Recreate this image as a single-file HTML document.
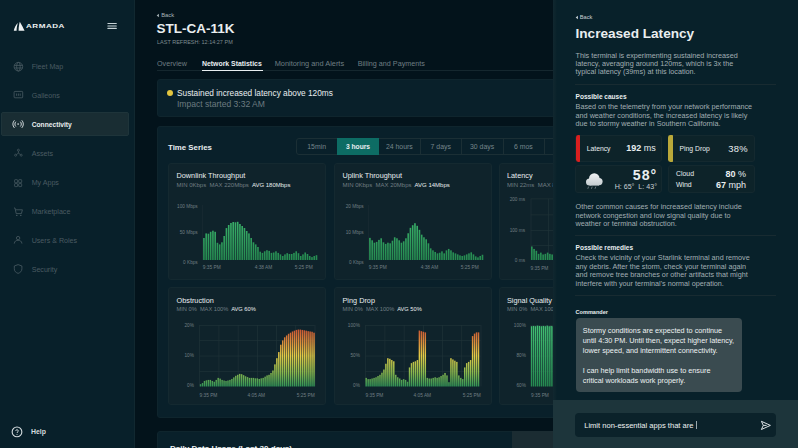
<!DOCTYPE html>
<html><head><meta charset="utf-8"><style>
html,body{margin:0;padding:0;}
body{width:798px;height:448px;overflow:hidden;position:relative;background:#03131b;font-family:"Liberation Sans", sans-serif;}
.b{position:absolute;}
.t{position:absolute;white-space:nowrap;}
</style></head><body>
<svg class="b" style="left:156px;top:13px" width="4" height="5"><path d="M2.9 0.7 L0.7 2.5 L2.9 4.3 Z" fill="#a9b5b9"/></svg>
<div class="t" style="left:161.20px;top:12.89px;font-size:5.8px;line-height:5.8px;color:#a9b5b9;">Back</div>
<div class="t" style="left:156.60px;top:22.47px;font-size:13.5px;line-height:13.5px;color:#e9eef0;font-weight:bold;">STL-CA-11K</div>
<div class="t" style="left:157.00px;top:40.34px;font-size:5.5px;line-height:5.5px;color:#7d8b90;">LAST REFRESH: 12:14:27 PM</div>
<div class="t" style="left:157.00px;top:59.91px;font-size:7.2px;line-height:7.2px;color:#6f7e83;">Overview</div>
<div class="t" style="left:202.00px;top:60.96px;font-size:6.9px;line-height:6.9px;color:#e9eef0;font-weight:bold;">Network Statistics</div>
<div class="t" style="left:274.70px;top:59.74px;font-size:7.4px;line-height:7.4px;color:#6f7e83;">Monitoring and Alerts</div>
<div class="t" style="left:357.70px;top:59.91px;font-size:7.2px;line-height:7.2px;color:#6f7e83;">Billing and Payments</div>
<div class="b" style="left:157px;top:70px;width:420px;height:1px;background:#15272e;"></div>
<div class="b" style="left:202px;top:69.8px;width:61px;height:1.2px;background:#e9eef0;"></div>
<div class="b" style="left:157px;top:79px;width:430px;height:38px;background:#09202a;border:1px solid #0f252d;border-radius:3px;box-sizing:border-box;"></div>
<div class="b" style="left:166.5px;top:90px;width:6px;height:6px;border-radius:50%;background:#e3c53f"></div>
<div class="t" style="left:177.00px;top:89.27px;font-size:8.3px;line-height:8.3px;color:#e9eef0;">Sustained increased latency above 120ms</div>
<div class="t" style="left:177.00px;top:99.96px;font-size:8.55px;line-height:8.55px;color:#6c7b80;">Impact started 3:32 AM</div>
<div class="b" style="left:157px;top:125.5px;width:430px;height:292px;background:#09202a;border:1px solid #0f252d;border-radius:3px;box-sizing:border-box;"></div>
<div class="t" style="left:168.00px;top:143.55px;font-size:7.85px;line-height:7.85px;color:#e9eef0;font-weight:bold;">Time Series</div>
<div class="b" style="left:296px;top:138px;width:290px;height:17px;background:transparent;border:1px solid #1b2f35;border-radius:3px;box-sizing:border-box;"></div>
<div class="t" style="left:216.67px;width:200px;text-align:center;top:144.16px;font-size:6.9px;line-height:6.9px;color:#75858a;">15min</div>
<div class="b" style="left:337.35px;top:138px;width:41.35px;height:17px;background:#0d6c64;"></div>
<div class="t" style="left:258.02px;width:200px;text-align:center;top:144.33px;font-size:6.7px;line-height:6.7px;color:#e9eef0;font-weight:bold;">3 hours</div>
<div class="t" style="left:299.37px;width:200px;text-align:center;top:144.16px;font-size:6.9px;line-height:6.9px;color:#75858a;">24 hours</div>
<div class="b" style="left:420.05px;top:138px;width:1px;height:17px;background:#1b2f35;"></div>
<div class="t" style="left:340.72px;width:200px;text-align:center;top:144.16px;font-size:6.9px;line-height:6.9px;color:#75858a;">7 days</div>
<div class="b" style="left:461.4px;top:138px;width:1px;height:17px;background:#1b2f35;"></div>
<div class="t" style="left:382.07px;width:200px;text-align:center;top:144.16px;font-size:6.9px;line-height:6.9px;color:#75858a;">30 days</div>
<div class="b" style="left:502.75px;top:138px;width:1px;height:17px;background:#1b2f35;"></div>
<div class="t" style="left:423.42px;width:200px;text-align:center;top:144.16px;font-size:6.9px;line-height:6.9px;color:#75858a;">6 mos</div>
<div class="b" style="left:544.1px;top:138px;width:1px;height:17px;background:#1b2f35;"></div>
<div class="t" style="left:464.77px;width:200px;text-align:center;top:144.16px;font-size:6.9px;line-height:6.9px;color:#75858a;">1 yr</div>
<div class="b" style="left:168px;top:162.5px;width:158px;height:117.5px;background:#0f232b;border:1px solid #142930;border-radius:3px;box-sizing:border-box;"></div>
<div class="t" style="left:176.50px;top:171.82px;font-size:7.3px;line-height:7.3px;color:#e9eef0;">Downlink Throughput</div>
<div class="t" style="left:176.50px;top:182.22px;font-size:6.0px;line-height:6.0px;color:#7c8b90;white-space:pre;"><span style="color:#6f7e83">MIN 0Kbps  MAX 220Mbps  </span><span style="color:#e9eef0">AVG 180Mbps</span></div>
<div class="b" style="left:334px;top:162.5px;width:158px;height:117.5px;background:#0f232b;border:1px solid #142930;border-radius:3px;box-sizing:border-box;"></div>
<div class="t" style="left:342.50px;top:171.82px;font-size:7.3px;line-height:7.3px;color:#e9eef0;">Uplink Throughput</div>
<div class="t" style="left:342.50px;top:182.22px;font-size:6.0px;line-height:6.0px;color:#7c8b90;white-space:pre;"><span style="color:#6f7e83">MIN 0Kbps  MAX 20Mbps  </span><span style="color:#e9eef0">AVG 14Mbps</span></div>
<div class="b" style="left:498.5px;top:162.5px;width:158px;height:117.5px;background:#0f232b;border:1px solid #142930;border-radius:3px;box-sizing:border-box;"></div>
<div class="t" style="left:507.00px;top:171.82px;font-size:7.3px;line-height:7.3px;color:#e9eef0;">Latency</div>
<div class="t" style="left:507.00px;top:182.22px;font-size:6.0px;line-height:6.0px;color:#7c8b90;white-space:pre;"><span style="color:#6f7e83">MIN 22ms  MAX 84ms  </span><span style="color:#e9eef0">AVG 39ms</span></div>
<div class="b" style="left:168px;top:287px;width:158px;height:118px;background:#0f232b;border:1px solid #142930;border-radius:3px;box-sizing:border-box;"></div>
<div class="t" style="left:176.50px;top:297.32px;font-size:7.3px;line-height:7.3px;color:#e9eef0;">Obstruction</div>
<div class="t" style="left:176.50px;top:307.07px;font-size:5.7px;line-height:5.7px;color:#7c8b90;white-space:pre;"><span style="color:#6f7e83">MIN 0%  MAX 100%  </span><span style="color:#e9eef0">AVG 60%</span></div>
<div class="b" style="left:334px;top:287px;width:158px;height:118px;background:#0f232b;border:1px solid #142930;border-radius:3px;box-sizing:border-box;"></div>
<div class="t" style="left:342.50px;top:297.32px;font-size:7.3px;line-height:7.3px;color:#e9eef0;">Ping Drop</div>
<div class="t" style="left:342.50px;top:307.07px;font-size:5.7px;line-height:5.7px;color:#7c8b90;white-space:pre;"><span style="color:#6f7e83">MIN 0%  MAX 100%  </span><span style="color:#e9eef0">AVG 50%</span></div>
<div class="b" style="left:498.5px;top:287px;width:158px;height:118px;background:#0f232b;border:1px solid #142930;border-radius:3px;box-sizing:border-box;"></div>
<div class="t" style="left:507.00px;top:297.32px;font-size:7.3px;line-height:7.3px;color:#e9eef0;">Signal Quality</div>
<div class="t" style="left:507.00px;top:307.07px;font-size:5.7px;line-height:5.7px;color:#7c8b90;white-space:pre;"><span style="color:#6f7e83">MIN 0%  MAX 100%  </span><span style="color:#e9eef0">AVG 98%</span></div>
<div class="b" style="left:157px;top:431px;width:430px;height:40px;background:#09202a;border:1px solid #0f252d;border-radius:3px;box-sizing:border-box;"></div>
<div class="b" style="left:512px;top:431px;width:45px;height:17px;background:#1b2c32;"></div>
<div class="t" style="left:170.00px;top:444.74px;font-size:8.1px;line-height:8.1px;color:#e9eef0;font-weight:bold;">Daily Data Usage (Last 30 days)</div>
<svg class="b" style="left:168px;top:163px" width="158" height="117" viewBox="168 163 158 117"><defs><linearGradient id="g1" gradientUnits="userSpaceOnUse" x1="0" y1="205" x2="0" y2="260"><stop offset="0" stop-color="#42c274"/><stop offset="1" stop-color="#258a50"/></linearGradient></defs><rect x="202.00" y="205.00" width="0.7" height="55.00" fill="#1a2c33"/><rect x="203.13" y="238.00" width="1.60" height="22.00" fill="url(#g1)"/><rect x="205.38" y="233.40" width="1.60" height="26.60" fill="url(#g1)"/><rect x="207.63" y="233.70" width="1.60" height="26.30" fill="url(#g1)"/><rect x="209.88" y="231.80" width="1.60" height="28.20" fill="url(#g1)"/><rect x="212.13" y="230.70" width="1.60" height="29.30" fill="url(#g1)"/><rect x="214.38" y="231.80" width="1.60" height="28.20" fill="url(#g1)"/><rect x="216.63" y="242.80" width="1.60" height="17.20" fill="url(#g1)"/><rect x="218.88" y="244.40" width="1.60" height="15.60" fill="url(#g1)"/><rect x="221.13" y="242.30" width="1.60" height="17.70" fill="url(#g1)"/><rect x="223.39" y="236.00" width="1.60" height="24.00" fill="url(#g1)"/><rect x="225.64" y="228.10" width="1.60" height="31.90" fill="url(#g1)"/><rect x="227.89" y="225.00" width="1.60" height="35.00" fill="url(#g1)"/><rect x="230.14" y="223.00" width="1.60" height="37.00" fill="url(#g1)"/><rect x="232.39" y="222.00" width="1.60" height="38.00" fill="url(#g1)"/><rect x="234.64" y="222.30" width="1.60" height="37.70" fill="url(#g1)"/><rect x="236.89" y="221.80" width="1.60" height="38.20" fill="url(#g1)"/><rect x="239.14" y="224.00" width="1.60" height="36.00" fill="url(#g1)"/><rect x="241.39" y="226.00" width="1.60" height="34.00" fill="url(#g1)"/><rect x="243.64" y="228.00" width="1.60" height="32.00" fill="url(#g1)"/><rect x="245.90" y="231.00" width="1.60" height="29.00" fill="url(#g1)"/><rect x="248.15" y="233.40" width="1.60" height="26.60" fill="url(#g1)"/><rect x="250.40" y="238.00" width="1.60" height="22.00" fill="url(#g1)"/><rect x="252.65" y="242.30" width="1.60" height="17.70" fill="url(#g1)"/><rect x="254.90" y="244.40" width="1.60" height="15.60" fill="url(#g1)"/><rect x="257.15" y="247.00" width="1.60" height="13.00" fill="url(#g1)"/><rect x="259.40" y="251.70" width="1.60" height="8.30" fill="url(#g1)"/><rect x="261.65" y="252.90" width="1.60" height="7.10" fill="url(#g1)"/><rect x="263.90" y="251.30" width="1.60" height="8.70" fill="url(#g1)"/><rect x="266.15" y="250.20" width="1.60" height="9.80" fill="url(#g1)"/><rect x="268.40" y="250.90" width="1.60" height="9.10" fill="url(#g1)"/><rect x="270.66" y="252.90" width="1.60" height="7.10" fill="url(#g1)"/><rect x="272.91" y="252.50" width="1.60" height="7.50" fill="url(#g1)"/><rect x="275.16" y="251.30" width="1.60" height="8.70" fill="url(#g1)"/><rect x="277.41" y="252.90" width="1.60" height="7.10" fill="url(#g1)"/><rect x="279.66" y="254.40" width="1.60" height="5.60" fill="url(#g1)"/><rect x="281.91" y="256.00" width="1.60" height="4.00" fill="url(#g1)"/><rect x="284.16" y="254.40" width="1.60" height="5.60" fill="url(#g1)"/><rect x="286.41" y="253.20" width="1.60" height="6.80" fill="url(#g1)"/><rect x="288.66" y="254.00" width="1.60" height="6.00" fill="url(#g1)"/><rect x="290.91" y="254.00" width="1.60" height="6.00" fill="url(#g1)"/><rect x="293.17" y="252.90" width="1.60" height="7.10" fill="url(#g1)"/><rect x="295.42" y="251.30" width="1.60" height="8.70" fill="url(#g1)"/><rect x="297.67" y="253.20" width="1.60" height="6.80" fill="url(#g1)"/><rect x="299.92" y="256.00" width="1.60" height="4.00" fill="url(#g1)"/><rect x="302.17" y="254.40" width="1.60" height="5.60" fill="url(#g1)"/><rect x="304.42" y="252.50" width="1.60" height="7.50" fill="url(#g1)"/><rect x="306.67" y="254.00" width="1.60" height="6.00" fill="url(#g1)"/><rect x="308.92" y="256.00" width="1.60" height="4.00" fill="url(#g1)"/><rect x="311.17" y="257.10" width="1.60" height="2.90" fill="url(#g1)"/><rect x="313.42" y="256.00" width="1.60" height="4.00" fill="url(#g1)"/><rect x="315.68" y="255.20" width="1.60" height="4.80" fill="url(#g1)"/></svg>
<div class="t" style="right:600.30px;top:204.82px;font-size:4.7px;line-height:4.7px;color:#6f7e83;">100 Mbps</div>
<div class="t" style="right:600.30px;top:231.12px;font-size:4.7px;line-height:4.7px;color:#6f7e83;">50 Mbps</div>
<div class="t" style="right:600.30px;top:260.52px;font-size:4.7px;line-height:4.7px;color:#6f7e83;">0 Kbps</div>
<div class="t" style="left:202.80px;top:266.24px;font-size:4.8px;line-height:4.8px;color:#6f7e83;">9:35 PM</div>
<div class="t" style="left:163.50px;width:200px;text-align:center;top:266.24px;font-size:4.8px;line-height:4.8px;color:#6f7e83;">4:38 AM</div>
<div class="t" style="right:485.30px;top:266.24px;font-size:4.8px;line-height:4.8px;color:#6f7e83;">5:25 PM</div>
<svg class="b" style="left:334px;top:163px" width="158" height="117" viewBox="334 163 158 117"><defs><linearGradient id="g2" gradientUnits="userSpaceOnUse" x1="0" y1="205" x2="0" y2="260"><stop offset="0" stop-color="#42c274"/><stop offset="1" stop-color="#258a50"/></linearGradient></defs><rect x="368.00" y="205.00" width="0.7" height="55.00" fill="#1a2c33"/><rect x="369.13" y="237.89" width="1.60" height="22.11" fill="url(#g2)"/><rect x="371.38" y="240.30" width="1.60" height="19.70" fill="url(#g2)"/><rect x="373.63" y="242.71" width="1.60" height="17.29" fill="url(#g2)"/><rect x="375.88" y="241.91" width="1.60" height="18.09" fill="url(#g2)"/><rect x="378.13" y="239.90" width="1.60" height="20.10" fill="url(#g2)"/><rect x="380.38" y="238.29" width="1.60" height="21.71" fill="url(#g2)"/><rect x="382.63" y="242.31" width="1.60" height="17.69" fill="url(#g2)"/><rect x="384.88" y="243.92" width="1.60" height="16.08" fill="url(#g2)"/><rect x="387.13" y="242.71" width="1.60" height="17.29" fill="url(#g2)"/><rect x="389.39" y="243.32" width="1.60" height="16.68" fill="url(#g2)"/><rect x="391.64" y="240.70" width="1.60" height="19.30" fill="url(#g2)"/><rect x="393.89" y="237.29" width="1.60" height="22.71" fill="url(#g2)"/><rect x="396.14" y="238.29" width="1.60" height="21.71" fill="url(#g2)"/><rect x="398.39" y="240.30" width="1.60" height="19.70" fill="url(#g2)"/><rect x="400.64" y="242.71" width="1.60" height="17.29" fill="url(#g2)"/><rect x="402.89" y="241.31" width="1.60" height="18.69" fill="url(#g2)"/><rect x="405.14" y="238.29" width="1.60" height="21.71" fill="url(#g2)"/><rect x="407.39" y="233.27" width="1.60" height="26.73" fill="url(#g2)"/><rect x="409.64" y="227.84" width="1.60" height="32.16" fill="url(#g2)"/><rect x="411.90" y="225.23" width="1.60" height="34.77" fill="url(#g2)"/><rect x="414.15" y="223.22" width="1.60" height="36.78" fill="url(#g2)"/><rect x="416.40" y="225.83" width="1.60" height="34.17" fill="url(#g2)"/><rect x="418.65" y="229.85" width="1.60" height="30.15" fill="url(#g2)"/><rect x="420.90" y="234.67" width="1.60" height="25.33" fill="url(#g2)"/><rect x="423.15" y="237.29" width="1.60" height="22.71" fill="url(#g2)"/><rect x="425.40" y="239.30" width="1.60" height="20.70" fill="url(#g2)"/><rect x="427.65" y="243.32" width="1.60" height="16.68" fill="url(#g2)"/><rect x="429.90" y="248.34" width="1.60" height="11.66" fill="url(#g2)"/><rect x="432.15" y="250.35" width="1.60" height="9.65" fill="url(#g2)"/><rect x="434.40" y="251.96" width="1.60" height="8.04" fill="url(#g2)"/><rect x="436.66" y="253.37" width="1.60" height="6.63" fill="url(#g2)"/><rect x="438.91" y="252.76" width="1.60" height="7.24" fill="url(#g2)"/><rect x="441.16" y="251.36" width="1.60" height="8.64" fill="url(#g2)"/><rect x="443.41" y="253.37" width="1.60" height="6.63" fill="url(#g2)"/><rect x="445.66" y="250.35" width="1.60" height="9.65" fill="url(#g2)"/><rect x="447.91" y="248.94" width="1.60" height="11.06" fill="url(#g2)"/><rect x="450.16" y="250.35" width="1.60" height="9.65" fill="url(#g2)"/><rect x="452.41" y="252.36" width="1.60" height="7.64" fill="url(#g2)"/><rect x="454.66" y="253.37" width="1.60" height="6.63" fill="url(#g2)"/><rect x="456.91" y="254.37" width="1.60" height="5.63" fill="url(#g2)"/><rect x="459.17" y="255.38" width="1.60" height="4.62" fill="url(#g2)"/><rect x="461.42" y="255.98" width="1.60" height="4.02" fill="url(#g2)"/><rect x="463.67" y="255.38" width="1.60" height="4.62" fill="url(#g2)"/><rect x="465.92" y="254.37" width="1.60" height="5.63" fill="url(#g2)"/><rect x="468.17" y="253.37" width="1.60" height="6.63" fill="url(#g2)"/><rect x="470.42" y="252.36" width="1.60" height="7.64" fill="url(#g2)"/><rect x="472.67" y="254.37" width="1.60" height="5.63" fill="url(#g2)"/><rect x="474.92" y="256.38" width="1.60" height="3.62" fill="url(#g2)"/><rect x="477.17" y="257.39" width="1.60" height="2.61" fill="url(#g2)"/><rect x="479.42" y="255.98" width="1.60" height="4.02" fill="url(#g2)"/><rect x="481.68" y="254.77" width="1.60" height="5.23" fill="url(#g2)"/></svg>
<div class="t" style="right:434.30px;top:204.82px;font-size:4.7px;line-height:4.7px;color:#6f7e83;">20 Mbps</div>
<div class="t" style="right:434.30px;top:231.12px;font-size:4.7px;line-height:4.7px;color:#6f7e83;">10 Mbps</div>
<div class="t" style="right:434.30px;top:260.52px;font-size:4.7px;line-height:4.7px;color:#6f7e83;">0 Kbps</div>
<div class="t" style="left:368.80px;top:266.24px;font-size:4.8px;line-height:4.8px;color:#6f7e83;">9:35 PM</div>
<div class="t" style="left:329.50px;width:200px;text-align:center;top:266.24px;font-size:4.8px;line-height:4.8px;color:#6f7e83;">4:38 AM</div>
<div class="t" style="right:319.30px;top:266.24px;font-size:4.8px;line-height:4.8px;color:#6f7e83;">5:25 PM</div>
<svg class="b" style="left:500px;top:163px" width="158" height="117" viewBox="500 163 158 117"><defs><linearGradient id="g3" gradientUnits="userSpaceOnUse" x1="0" y1="198.6" x2="0" y2="260"><stop offset="0" stop-color="#42c274"/><stop offset="1" stop-color="#258a50"/></linearGradient></defs><rect x="530.7" y="198.6" width="115" height="0.6" fill="#213439"/><rect x="530.7" y="214.6" width="115" height="0.6" fill="#213439"/><rect x="530.7" y="230" width="115" height="0.6" fill="#213439"/><rect x="530.7" y="245.3" width="115" height="0.6" fill="#213439"/><rect x="530.7" y="198.6" width="0.6" height="61.4" fill="#213439"/><rect x="548" y="198.6" width="0.6" height="61.4" fill="#213439"/><rect x="531.03" y="246.49" width="1.60" height="13.51" fill="url(#g3)"/><rect x="533.28" y="248.95" width="1.60" height="11.05" fill="url(#g3)"/><rect x="535.54" y="250.79" width="1.60" height="9.21" fill="url(#g3)"/><rect x="537.80" y="253.86" width="1.60" height="6.14" fill="url(#g3)"/><rect x="540.05" y="252.63" width="1.60" height="7.37" fill="url(#g3)"/><rect x="542.31" y="254.47" width="1.60" height="5.53" fill="url(#g3)"/><rect x="544.57" y="253.86" width="1.60" height="6.14" fill="url(#g3)"/><rect x="546.83" y="252.63" width="1.60" height="7.37" fill="url(#g3)"/><rect x="549.08" y="253.86" width="1.60" height="6.14" fill="url(#g3)"/><rect x="551.34" y="254.47" width="1.60" height="5.53" fill="url(#g3)"/><rect x="553.60" y="252.02" width="1.60" height="7.98" fill="url(#g3)"/><rect x="555.85" y="252.63" width="1.60" height="7.37" fill="url(#g3)"/><rect x="558.11" y="253.86" width="1.60" height="6.14" fill="url(#g3)"/><rect x="560.37" y="253.25" width="1.60" height="6.75" fill="url(#g3)"/><rect x="562.62" y="253.86" width="1.60" height="6.14" fill="url(#g3)"/><rect x="564.88" y="253.86" width="1.60" height="6.14" fill="url(#g3)"/><rect x="567.14" y="253.86" width="1.60" height="6.14" fill="url(#g3)"/><rect x="569.39" y="253.86" width="1.60" height="6.14" fill="url(#g3)"/><rect x="571.65" y="253.86" width="1.60" height="6.14" fill="url(#g3)"/><rect x="573.91" y="253.86" width="1.60" height="6.14" fill="url(#g3)"/><rect x="576.16" y="253.86" width="1.60" height="6.14" fill="url(#g3)"/><rect x="578.42" y="253.86" width="1.60" height="6.14" fill="url(#g3)"/><rect x="580.68" y="253.86" width="1.60" height="6.14" fill="url(#g3)"/><rect x="582.94" y="253.86" width="1.60" height="6.14" fill="url(#g3)"/><rect x="585.19" y="253.86" width="1.60" height="6.14" fill="url(#g3)"/><rect x="587.45" y="253.86" width="1.60" height="6.14" fill="url(#g3)"/><rect x="589.71" y="253.86" width="1.60" height="6.14" fill="url(#g3)"/><rect x="591.96" y="253.86" width="1.60" height="6.14" fill="url(#g3)"/><rect x="594.22" y="253.86" width="1.60" height="6.14" fill="url(#g3)"/><rect x="596.48" y="253.86" width="1.60" height="6.14" fill="url(#g3)"/><rect x="598.73" y="253.86" width="1.60" height="6.14" fill="url(#g3)"/><rect x="600.99" y="253.86" width="1.60" height="6.14" fill="url(#g3)"/><rect x="603.25" y="253.86" width="1.60" height="6.14" fill="url(#g3)"/><rect x="605.50" y="253.86" width="1.60" height="6.14" fill="url(#g3)"/><rect x="607.76" y="253.86" width="1.60" height="6.14" fill="url(#g3)"/><rect x="610.02" y="253.86" width="1.60" height="6.14" fill="url(#g3)"/><rect x="612.27" y="253.86" width="1.60" height="6.14" fill="url(#g3)"/><rect x="614.53" y="253.86" width="1.60" height="6.14" fill="url(#g3)"/><rect x="616.79" y="253.86" width="1.60" height="6.14" fill="url(#g3)"/><rect x="619.04" y="253.86" width="1.60" height="6.14" fill="url(#g3)"/><rect x="621.30" y="253.86" width="1.60" height="6.14" fill="url(#g3)"/><rect x="623.56" y="253.86" width="1.60" height="6.14" fill="url(#g3)"/><rect x="625.82" y="253.86" width="1.60" height="6.14" fill="url(#g3)"/><rect x="628.07" y="253.86" width="1.60" height="6.14" fill="url(#g3)"/><rect x="630.33" y="253.86" width="1.60" height="6.14" fill="url(#g3)"/><rect x="632.59" y="253.86" width="1.60" height="6.14" fill="url(#g3)"/><rect x="634.84" y="253.86" width="1.60" height="6.14" fill="url(#g3)"/><rect x="637.10" y="253.86" width="1.60" height="6.14" fill="url(#g3)"/><rect x="639.36" y="253.86" width="1.60" height="6.14" fill="url(#g3)"/><rect x="641.61" y="253.86" width="1.60" height="6.14" fill="url(#g3)"/><rect x="643.87" y="253.86" width="1.60" height="6.14" fill="url(#g3)"/></svg>
<div class="t" style="right:273.00px;top:197.82px;font-size:4.7px;line-height:4.7px;color:#6f7e83;">200 ms</div>
<div class="t" style="right:273.00px;top:229.22px;font-size:4.7px;line-height:4.7px;color:#6f7e83;">100 ms</div>
<div class="t" style="right:273.00px;top:258.92px;font-size:4.7px;line-height:4.7px;color:#6f7e83;">0 ms</div>
<div class="t" style="left:530.50px;top:267.44px;font-size:4.8px;line-height:4.8px;color:#6f7e83;">9:35 PM</div>
<svg class="b" style="left:168px;top:288.5px" width="158" height="117" viewBox="168 288.5 158 117"><defs><linearGradient id="h1" gradientUnits="userSpaceOnUse" x1="0" y1="324.5" x2="0" y2="386"><stop offset="0" stop-color="#c4432f"/><stop offset="0.25" stop-color="#d9853a"/><stop offset="0.5" stop-color="#e4cc46"/><stop offset="0.78" stop-color="#88b84e"/><stop offset="1" stop-color="#2f9256"/></linearGradient></defs><rect x="199.4" y="324.50" width="115.30" height="0.6" fill="#213439"/><rect x="199.4" y="339.88" width="115.30" height="0.6" fill="#213439"/><rect x="199.4" y="355.25" width="115.30" height="0.6" fill="#213439"/><rect x="199.4" y="370.62" width="115.30" height="0.6" fill="#213439"/><rect x="199.40" y="324.5" width="0.6" height="61.50" fill="#213439"/><rect x="218.62" y="324.5" width="0.6" height="61.50" fill="#213439"/><rect x="237.83" y="324.5" width="0.6" height="61.50" fill="#213439"/><rect x="257.05" y="324.5" width="0.6" height="61.50" fill="#213439"/><rect x="276.27" y="324.5" width="0.6" height="61.50" fill="#213439"/><rect x="295.48" y="324.5" width="0.6" height="61.50" fill="#213439"/><rect x="314.70" y="324.5" width="0.6" height="61.50" fill="#213439"/><rect x="199.85" y="383.66" width="1.45" height="2.34" fill="url(#h1)"/><rect x="201.81" y="382.56" width="1.45" height="3.44" fill="url(#h1)"/><rect x="203.77" y="380.46" width="1.45" height="5.54" fill="url(#h1)"/><rect x="205.72" y="379.85" width="1.45" height="6.15" fill="url(#h1)"/><rect x="207.68" y="379.42" width="1.45" height="6.58" fill="url(#h1)"/><rect x="209.63" y="379.42" width="1.45" height="6.58" fill="url(#h1)"/><rect x="211.59" y="380.46" width="1.45" height="5.54" fill="url(#h1)"/><rect x="213.55" y="381.26" width="1.45" height="4.74" fill="url(#h1)"/><rect x="215.50" y="379.42" width="1.45" height="6.58" fill="url(#h1)"/><rect x="217.46" y="377.39" width="1.45" height="8.61" fill="url(#h1)"/><rect x="219.41" y="378.13" width="1.45" height="7.87" fill="url(#h1)"/><rect x="221.37" y="379.42" width="1.45" height="6.58" fill="url(#h1)"/><rect x="223.33" y="380.03" width="1.45" height="5.97" fill="url(#h1)"/><rect x="225.28" y="380.46" width="1.45" height="5.54" fill="url(#h1)"/><rect x="227.24" y="380.03" width="1.45" height="5.97" fill="url(#h1)"/><rect x="229.19" y="379.42" width="1.45" height="6.58" fill="url(#h1)"/><rect x="231.15" y="378.44" width="1.45" height="7.56" fill="url(#h1)"/><rect x="233.11" y="376.90" width="1.45" height="9.10" fill="url(#h1)"/><rect x="235.06" y="375.30" width="1.45" height="10.70" fill="url(#h1)"/><rect x="237.02" y="374.31" width="1.45" height="11.69" fill="url(#h1)"/><rect x="238.97" y="373.39" width="1.45" height="12.61" fill="url(#h1)"/><rect x="240.93" y="373.70" width="1.45" height="12.30" fill="url(#h1)"/><rect x="242.88" y="374.68" width="1.45" height="11.32" fill="url(#h1)"/><rect x="244.84" y="375.79" width="1.45" height="10.21" fill="url(#h1)"/><rect x="246.80" y="376.59" width="1.45" height="9.41" fill="url(#h1)"/><rect x="248.75" y="377.39" width="1.45" height="8.61" fill="url(#h1)"/><rect x="250.71" y="377.39" width="1.45" height="8.61" fill="url(#h1)"/><rect x="252.66" y="377.39" width="1.45" height="8.61" fill="url(#h1)"/><rect x="254.62" y="377.82" width="1.45" height="8.18" fill="url(#h1)"/><rect x="256.58" y="377.82" width="1.45" height="8.18" fill="url(#h1)"/><rect x="258.53" y="378.44" width="1.45" height="7.56" fill="url(#h1)"/><rect x="260.49" y="377.82" width="1.45" height="8.18" fill="url(#h1)"/><rect x="262.44" y="377.39" width="1.45" height="8.61" fill="url(#h1)"/><rect x="264.40" y="376.16" width="1.45" height="9.84" fill="url(#h1)"/><rect x="266.36" y="374.93" width="1.45" height="11.07" fill="url(#h1)"/><rect x="268.31" y="374.31" width="1.45" height="11.69" fill="url(#h1)"/><rect x="270.27" y="372.47" width="1.45" height="13.53" fill="url(#h1)"/><rect x="272.22" y="370.01" width="1.45" height="15.99" fill="url(#h1)"/><rect x="274.18" y="363.86" width="1.45" height="22.14" fill="url(#h1)"/><rect x="276.14" y="357.71" width="1.45" height="28.29" fill="url(#h1)"/><rect x="278.09" y="351.56" width="1.45" height="34.44" fill="url(#h1)"/><rect x="280.05" y="344.18" width="1.45" height="41.82" fill="url(#h1)"/><rect x="282.00" y="339.88" width="1.45" height="46.12" fill="url(#h1)"/><rect x="283.96" y="336.80" width="1.45" height="49.20" fill="url(#h1)"/><rect x="285.92" y="334.95" width="1.45" height="51.04" fill="url(#h1)"/><rect x="287.87" y="333.29" width="1.45" height="52.71" fill="url(#h1)"/><rect x="289.83" y="332.19" width="1.45" height="53.81" fill="url(#h1)"/><rect x="291.78" y="330.96" width="1.45" height="55.04" fill="url(#h1)"/><rect x="293.74" y="330.16" width="1.45" height="55.84" fill="url(#h1)"/><rect x="295.69" y="329.42" width="1.45" height="56.58" fill="url(#h1)"/><rect x="297.65" y="329.05" width="1.45" height="56.95" fill="url(#h1)"/><rect x="299.61" y="329.05" width="1.45" height="56.95" fill="url(#h1)"/><rect x="301.56" y="329.42" width="1.45" height="56.58" fill="url(#h1)"/><rect x="303.52" y="329.73" width="1.45" height="56.27" fill="url(#h1)"/><rect x="305.47" y="330.16" width="1.45" height="55.84" fill="url(#h1)"/><rect x="307.43" y="330.65" width="1.45" height="55.35" fill="url(#h1)"/><rect x="309.39" y="330.96" width="1.45" height="55.04" fill="url(#h1)"/><rect x="311.34" y="331.26" width="1.45" height="54.73" fill="url(#h1)"/><rect x="313.30" y="332.19" width="1.45" height="53.81" fill="url(#h1)"/></svg>
<div class="t" style="right:604.20px;top:323.72px;font-size:4.7px;line-height:4.7px;color:#6f7e83;">20%</div>
<div class="t" style="right:604.20px;top:354.42px;font-size:4.7px;line-height:4.7px;color:#6f7e83;">10%</div>
<div class="t" style="right:604.20px;top:383.92px;font-size:4.7px;line-height:4.7px;color:#6f7e83;">0%</div>
<div class="t" style="left:199.50px;top:393.74px;font-size:4.8px;line-height:4.8px;color:#6f7e83;">9:35 PM</div>
<div class="t" style="left:156.30px;width:200px;text-align:center;top:393.74px;font-size:4.8px;line-height:4.8px;color:#6f7e83;">4:05 AM</div>
<div class="t" style="right:483.30px;top:393.74px;font-size:4.8px;line-height:4.8px;color:#6f7e83;">5:25 PM</div>
<svg class="b" style="left:334px;top:288.5px" width="158" height="117" viewBox="334 288.5 158 117"><defs><linearGradient id="h2" gradientUnits="userSpaceOnUse" x1="0" y1="324.5" x2="0" y2="386"><stop offset="0" stop-color="#c4432f"/><stop offset="0.25" stop-color="#d9853a"/><stop offset="0.5" stop-color="#e4cc46"/><stop offset="0.78" stop-color="#88b84e"/><stop offset="1" stop-color="#2f9256"/></linearGradient></defs><rect x="365.4" y="324.50" width="115.30" height="0.6" fill="#213439"/><rect x="365.4" y="339.88" width="115.30" height="0.6" fill="#213439"/><rect x="365.4" y="355.25" width="115.30" height="0.6" fill="#213439"/><rect x="365.4" y="370.62" width="115.30" height="0.6" fill="#213439"/><rect x="365.40" y="324.5" width="0.6" height="61.50" fill="#213439"/><rect x="384.62" y="324.5" width="0.6" height="61.50" fill="#213439"/><rect x="403.83" y="324.5" width="0.6" height="61.50" fill="#213439"/><rect x="423.05" y="324.5" width="0.6" height="61.50" fill="#213439"/><rect x="442.27" y="324.5" width="0.6" height="61.50" fill="#213439"/><rect x="461.48" y="324.5" width="0.6" height="61.50" fill="#213439"/><rect x="480.70" y="324.5" width="0.6" height="61.50" fill="#213439"/><rect x="365.46" y="377.39" width="1.46" height="8.61" fill="url(#h2)"/><rect x="367.43" y="378.62" width="1.46" height="7.38" fill="url(#h2)"/><rect x="369.40" y="378.62" width="1.46" height="7.38" fill="url(#h2)"/><rect x="371.37" y="378.00" width="1.46" height="8.00" fill="url(#h2)"/><rect x="373.34" y="377.39" width="1.46" height="8.61" fill="url(#h2)"/><rect x="375.31" y="376.77" width="1.46" height="9.22" fill="url(#h2)"/><rect x="377.28" y="375.55" width="1.46" height="10.46" fill="url(#h2)"/><rect x="379.25" y="374.31" width="1.46" height="11.69" fill="url(#h2)"/><rect x="381.22" y="372.16" width="1.46" height="13.84" fill="url(#h2)"/><rect x="383.19" y="369.03" width="1.46" height="16.97" fill="url(#h2)"/><rect x="385.16" y="363.25" width="1.46" height="22.75" fill="url(#h2)"/><rect x="387.13" y="357.71" width="1.46" height="28.29" fill="url(#h2)"/><rect x="389.10" y="358.32" width="1.46" height="27.68" fill="url(#h2)"/><rect x="391.08" y="359.56" width="1.46" height="26.45" fill="url(#h2)"/><rect x="393.05" y="360.79" width="1.46" height="25.21" fill="url(#h2)"/><rect x="395.02" y="374.31" width="1.46" height="11.69" fill="url(#h2)"/><rect x="396.99" y="376.77" width="1.46" height="9.22" fill="url(#h2)"/><rect x="398.96" y="378.00" width="1.46" height="8.00" fill="url(#h2)"/><rect x="400.93" y="379.42" width="1.46" height="6.58" fill="url(#h2)"/><rect x="402.90" y="378.62" width="1.46" height="7.38" fill="url(#h2)"/><rect x="404.87" y="379.42" width="1.46" height="6.58" fill="url(#h2)"/><rect x="406.84" y="381.26" width="1.46" height="4.74" fill="url(#h2)"/><rect x="408.81" y="366.94" width="1.46" height="19.07" fill="url(#h2)"/><rect x="410.78" y="362.63" width="1.46" height="23.37" fill="url(#h2)"/><rect x="412.75" y="361.40" width="1.46" height="24.60" fill="url(#h2)"/><rect x="414.72" y="360.79" width="1.46" height="25.21" fill="url(#h2)"/><rect x="416.69" y="359.56" width="1.46" height="26.45" fill="url(#h2)"/><rect x="418.66" y="330.03" width="1.46" height="55.97" fill="url(#h2)"/><rect x="420.64" y="330.65" width="1.46" height="55.35" fill="url(#h2)"/><rect x="422.61" y="331.26" width="1.46" height="54.73" fill="url(#h2)"/><rect x="424.58" y="331.88" width="1.46" height="54.12" fill="url(#h2)"/><rect x="426.55" y="377.39" width="1.46" height="8.61" fill="url(#h2)"/><rect x="428.52" y="378.00" width="1.46" height="8.00" fill="url(#h2)"/><rect x="430.49" y="378.00" width="1.46" height="8.00" fill="url(#h2)"/><rect x="432.46" y="377.39" width="1.46" height="8.61" fill="url(#h2)"/><rect x="434.43" y="376.77" width="1.46" height="9.22" fill="url(#h2)"/><rect x="436.40" y="377.39" width="1.46" height="8.61" fill="url(#h2)"/><rect x="438.37" y="376.77" width="1.46" height="9.22" fill="url(#h2)"/><rect x="440.34" y="375.55" width="1.46" height="10.46" fill="url(#h2)"/><rect x="442.31" y="374.31" width="1.46" height="11.69" fill="url(#h2)"/><rect x="444.28" y="372.47" width="1.46" height="13.53" fill="url(#h2)"/><rect x="446.25" y="374.93" width="1.46" height="11.07" fill="url(#h2)"/><rect x="448.23" y="381.69" width="1.46" height="4.31" fill="url(#h2)"/><rect x="450.20" y="357.71" width="1.46" height="28.29" fill="url(#h2)"/><rect x="452.17" y="358.94" width="1.46" height="27.06" fill="url(#h2)"/><rect x="454.14" y="360.17" width="1.46" height="25.83" fill="url(#h2)"/><rect x="456.11" y="361.40" width="1.46" height="24.60" fill="url(#h2)"/><rect x="458.08" y="374.93" width="1.46" height="11.07" fill="url(#h2)"/><rect x="460.05" y="377.39" width="1.46" height="8.61" fill="url(#h2)"/><rect x="462.02" y="378.62" width="1.46" height="7.38" fill="url(#h2)"/><rect x="463.99" y="366.94" width="1.46" height="19.07" fill="url(#h2)"/><rect x="465.96" y="362.63" width="1.46" height="23.37" fill="url(#h2)"/><rect x="467.93" y="361.40" width="1.46" height="24.60" fill="url(#h2)"/><rect x="469.90" y="359.56" width="1.46" height="26.45" fill="url(#h2)"/><rect x="471.87" y="335.57" width="1.46" height="50.43" fill="url(#h2)"/><rect x="473.84" y="333.11" width="1.46" height="52.89" fill="url(#h2)"/><rect x="475.81" y="331.88" width="1.46" height="54.12" fill="url(#h2)"/><rect x="477.79" y="331.88" width="1.46" height="54.12" fill="url(#h2)"/></svg>
<div class="t" style="right:438.20px;top:323.72px;font-size:4.7px;line-height:4.7px;color:#6f7e83;">100%</div>
<div class="t" style="right:438.20px;top:354.42px;font-size:4.7px;line-height:4.7px;color:#6f7e83;">50%</div>
<div class="t" style="right:438.20px;top:383.92px;font-size:4.7px;line-height:4.7px;color:#6f7e83;">0%</div>
<div class="t" style="left:365.50px;top:393.74px;font-size:4.8px;line-height:4.8px;color:#6f7e83;">9:35 PM</div>
<div class="t" style="left:322.30px;width:200px;text-align:center;top:393.74px;font-size:4.8px;line-height:4.8px;color:#6f7e83;">4:05 AM</div>
<div class="t" style="right:317.30px;top:393.74px;font-size:4.8px;line-height:4.8px;color:#6f7e83;">5:25 PM</div>
<svg class="b" style="left:500px;top:288.5px" width="158" height="117" viewBox="500 288.5 158 117"><defs><linearGradient id="g4" gradientUnits="userSpaceOnUse" x1="0" y1="324.5" x2="0" y2="386"><stop offset="0" stop-color="#42c274"/><stop offset="1" stop-color="#258a50"/></linearGradient></defs><rect x="530.6" y="324.50" width="115.40" height="0.6" fill="#213439"/><rect x="530.6" y="339.88" width="115.40" height="0.6" fill="#213439"/><rect x="530.6" y="355.25" width="115.40" height="0.6" fill="#213439"/><rect x="530.6" y="370.62" width="115.40" height="0.6" fill="#213439"/><rect x="530.60" y="324.5" width="0.6" height="61.50" fill="#213439"/><rect x="549.83" y="324.5" width="0.6" height="61.50" fill="#213439"/><rect x="569.07" y="324.5" width="0.6" height="61.50" fill="#213439"/><rect x="588.30" y="324.5" width="0.6" height="61.50" fill="#213439"/><rect x="607.53" y="324.5" width="0.6" height="61.50" fill="#213439"/><rect x="626.77" y="324.5" width="0.6" height="61.50" fill="#213439"/><rect x="646.00" y="324.5" width="0.6" height="61.50" fill="#213439"/><rect x="530.88" y="325.73" width="1.39" height="60.27" fill="url(#g4)"/><rect x="532.84" y="325.42" width="1.39" height="60.58" fill="url(#g4)"/><rect x="534.80" y="325.73" width="1.39" height="60.27" fill="url(#g4)"/><rect x="536.75" y="325.12" width="1.39" height="60.88" fill="url(#g4)"/><rect x="538.71" y="325.42" width="1.39" height="60.58" fill="url(#g4)"/><rect x="540.66" y="325.73" width="1.39" height="60.27" fill="url(#g4)"/><rect x="542.62" y="325.42" width="1.39" height="60.58" fill="url(#g4)"/><rect x="544.58" y="325.73" width="1.39" height="60.27" fill="url(#g4)"/><rect x="546.53" y="325.12" width="1.39" height="60.88" fill="url(#g4)"/><rect x="548.49" y="325.73" width="1.39" height="60.27" fill="url(#g4)"/><rect x="550.44" y="325.42" width="1.39" height="60.58" fill="url(#g4)"/><rect x="552.40" y="325.73" width="1.39" height="60.27" fill="url(#g4)"/><rect x="554.35" y="325.73" width="1.39" height="60.27" fill="url(#g4)"/><rect x="556.31" y="325.73" width="1.39" height="60.27" fill="url(#g4)"/><rect x="558.27" y="325.73" width="1.39" height="60.27" fill="url(#g4)"/><rect x="560.22" y="325.73" width="1.39" height="60.27" fill="url(#g4)"/><rect x="562.18" y="325.73" width="1.39" height="60.27" fill="url(#g4)"/><rect x="564.13" y="325.73" width="1.39" height="60.27" fill="url(#g4)"/><rect x="566.09" y="325.73" width="1.39" height="60.27" fill="url(#g4)"/><rect x="568.05" y="325.73" width="1.39" height="60.27" fill="url(#g4)"/><rect x="570.00" y="325.73" width="1.39" height="60.27" fill="url(#g4)"/><rect x="571.96" y="325.73" width="1.39" height="60.27" fill="url(#g4)"/><rect x="573.91" y="325.73" width="1.39" height="60.27" fill="url(#g4)"/><rect x="575.87" y="325.73" width="1.39" height="60.27" fill="url(#g4)"/><rect x="577.83" y="325.73" width="1.39" height="60.27" fill="url(#g4)"/><rect x="579.78" y="325.73" width="1.39" height="60.27" fill="url(#g4)"/><rect x="581.74" y="325.73" width="1.39" height="60.27" fill="url(#g4)"/><rect x="583.69" y="325.73" width="1.39" height="60.27" fill="url(#g4)"/><rect x="585.65" y="325.73" width="1.39" height="60.27" fill="url(#g4)"/><rect x="587.61" y="325.73" width="1.39" height="60.27" fill="url(#g4)"/><rect x="589.56" y="325.73" width="1.39" height="60.27" fill="url(#g4)"/><rect x="591.52" y="325.73" width="1.39" height="60.27" fill="url(#g4)"/><rect x="593.47" y="325.73" width="1.39" height="60.27" fill="url(#g4)"/><rect x="595.43" y="325.73" width="1.39" height="60.27" fill="url(#g4)"/><rect x="597.39" y="325.73" width="1.39" height="60.27" fill="url(#g4)"/><rect x="599.34" y="325.73" width="1.39" height="60.27" fill="url(#g4)"/><rect x="601.30" y="325.73" width="1.39" height="60.27" fill="url(#g4)"/><rect x="603.25" y="325.73" width="1.39" height="60.27" fill="url(#g4)"/><rect x="605.21" y="325.73" width="1.39" height="60.27" fill="url(#g4)"/><rect x="607.16" y="325.73" width="1.39" height="60.27" fill="url(#g4)"/><rect x="609.12" y="325.73" width="1.39" height="60.27" fill="url(#g4)"/><rect x="611.08" y="325.73" width="1.39" height="60.27" fill="url(#g4)"/><rect x="613.03" y="325.73" width="1.39" height="60.27" fill="url(#g4)"/><rect x="614.99" y="325.73" width="1.39" height="60.27" fill="url(#g4)"/><rect x="616.94" y="325.73" width="1.39" height="60.27" fill="url(#g4)"/><rect x="618.90" y="325.73" width="1.39" height="60.27" fill="url(#g4)"/><rect x="620.86" y="325.73" width="1.39" height="60.27" fill="url(#g4)"/><rect x="622.81" y="325.73" width="1.39" height="60.27" fill="url(#g4)"/><rect x="624.77" y="325.73" width="1.39" height="60.27" fill="url(#g4)"/><rect x="626.72" y="325.73" width="1.39" height="60.27" fill="url(#g4)"/><rect x="628.68" y="325.73" width="1.39" height="60.27" fill="url(#g4)"/><rect x="630.64" y="325.73" width="1.39" height="60.27" fill="url(#g4)"/><rect x="632.59" y="325.73" width="1.39" height="60.27" fill="url(#g4)"/><rect x="634.55" y="325.73" width="1.39" height="60.27" fill="url(#g4)"/><rect x="636.50" y="325.73" width="1.39" height="60.27" fill="url(#g4)"/><rect x="638.46" y="325.73" width="1.39" height="60.27" fill="url(#g4)"/><rect x="640.42" y="325.73" width="1.39" height="60.27" fill="url(#g4)"/><rect x="642.37" y="325.73" width="1.39" height="60.27" fill="url(#g4)"/><rect x="644.33" y="325.73" width="1.39" height="60.27" fill="url(#g4)"/></svg>
<div class="t" style="right:272.20px;top:323.72px;font-size:4.7px;line-height:4.7px;color:#6f7e83;">100%</div>
<div class="t" style="right:272.20px;top:354.42px;font-size:4.7px;line-height:4.7px;color:#6f7e83;">80%</div>
<div class="t" style="right:272.20px;top:383.92px;font-size:4.7px;line-height:4.7px;color:#6f7e83;">60%</div>
<div class="t" style="left:531.00px;top:393.74px;font-size:4.8px;line-height:4.8px;color:#6f7e83;">9:35 PM</div>
<div class="b" style="left:0px;top:0px;width:134px;height:448px;background:#08202a;"></div>
<div class="b" style="left:134px;top:0px;width:1px;height:448px;background:#112830;"></div>
<svg class="b" style="left:13px;top:21px" width="13" height="11" viewBox="0 0 13 11"><path d="M4.9 1.9 C2.9 3.8 1.2 6.8 0.8 9.8 L3.6 9.8 C3.6 7 4.1 4.2 4.9 1.9 Z" fill="#eef2f3"/><path d="M6.8 0.8 C6.1 3.5 5.6 6.5 5.6 9.8 L11.6 9.8 C10.2 6.8 8.6 3.6 6.8 0.8 Z" fill="#eef2f3"/></svg>
<div class="t" style="left:26.20px;top:23.67px;font-size:5.7px;line-height:5.7px;color:#eef2f3;font-weight:bold;letter-spacing:0.35px;transform:scaleX(1.42);transform-origin:0 0;">ARMADA</div>
<svg class="b" style="left:105px;top:20px" width="14" height="12" viewBox="105 20 14 12"><path d="M107.9 23.5 H116.3 M107.9 25.95 H116.3 M107.9 28.4 H116.3" stroke="#c6d3d7" stroke-width="1.1" stroke-linecap="round"/></svg>
<div class="b" style="left:1px;top:112px;width:127.7px;height:24px;background:#192d33;border-radius:2px;border:0.6px solid #1e343a;box-sizing:border-box;"></div>
<svg class="b" style="left:8px;top:58.8px" width="22" height="16" viewBox="8 58.8 22 16"><circle cx="18.4" cy="66.5" r="4.3" fill="none" stroke="#4a5c63" stroke-width="0.8"/><ellipse cx="18.4" cy="66.5" rx="1.8" ry="4.3" fill="none" stroke="#4a5c63" stroke-width="0.8"/><path d="M14.3 65.2 H22.5 M14.3 67.8 H22.5" stroke="#4a5c63" stroke-width="0.8"/></svg>
<div class="t" style="left:31.70px;top:64.19px;font-size:7.1px;line-height:7.1px;color:#4a5b62;">Fleet Map</div>
<svg class="b" style="left:8px;top:87.2px" width="22" height="16" viewBox="8 87.2 22 16"><rect x="14.1" y="91.60000000000001" width="8.6" height="6.4" rx="0.8" fill="none" stroke="#4a5c63" stroke-width="0.8"/><path d="M16.6 93.7 V96.0 M18.4 93.7 V96.0 M20.2 93.7 V96.0" stroke="#4a5c63" stroke-width="0.8"/></svg>
<div class="t" style="left:31.70px;top:92.99px;font-size:7.1px;line-height:7.1px;color:#4a5b62;">Galleons</div>
<svg class="b" style="left:8px;top:116.4px" width="22" height="16" viewBox="8 116.4 22 16"><path d="M14.2 121.0 C12.4 123.0 12.4 126.0 14.2 128.0 M15.6 122.4 C14.6 123.5 14.6 125.5 15.6 126.60000000000001 M22.0 121.0 C23.8 123.0 23.8 126.0 22.0 128.0 M20.6 122.4 C21.6 123.5 21.6 125.5 20.6 126.60000000000001" fill="none" stroke="#e6ecee" stroke-width="0.9" stroke-linecap="round"/><circle cx="18.1" cy="124.5" r="0.8" fill="#e6ecee"/></svg>
<div class="t" style="left:31.70px;top:122.03px;font-size:6.7px;line-height:6.7px;color:#e9eef0;font-weight:bold;">Connectivity</div>
<svg class="b" style="left:8px;top:145.4px" width="22" height="16" viewBox="8 145.4 22 16"><circle cx="18.4" cy="150.6" r="1.0" fill="none" stroke="#4a5c63" stroke-width="0.7"/><circle cx="15.6" cy="155.6" r="1.0" fill="none" stroke="#4a5c63" stroke-width="0.7"/><circle cx="21.2" cy="155.6" r="1.0" fill="none" stroke="#4a5c63" stroke-width="0.7"/><path d="M18.4 151.6 V153.6 L16.4 154.9 M18.4 153.6 L20.4 154.9" fill="none" stroke="#4a5c63" stroke-width="0.7"/></svg>
<div class="t" style="left:31.70px;top:150.69px;font-size:7.1px;line-height:7.1px;color:#4a5b62;">Assets</div>
<svg class="b" style="left:8px;top:175.0px" width="22" height="16" viewBox="8 175.0 22 16"><rect x="14.6" y="179.7" width="3.0" height="3.0" rx="0.5" fill="none" stroke="#4a5c63" stroke-width="0.75"/><rect x="14.6" y="183.6" width="3.0" height="3.0" rx="0.5" fill="none" stroke="#4a5c63" stroke-width="0.75"/><rect x="18.7" y="179.7" width="3.0" height="3.0" rx="0.5" fill="none" stroke="#4a5c63" stroke-width="0.75"/><rect x="18.7" y="183.6" width="3.0" height="3.0" rx="0.5" fill="none" stroke="#4a5c63" stroke-width="0.75"/></svg>
<div class="t" style="left:31.70px;top:179.69px;font-size:7.1px;line-height:7.1px;color:#4a5b62;">My Apps</div>
<svg class="b" style="left:8px;top:203.5px" width="22" height="16" viewBox="8 203.5 22 16"><path d="M14.0 207.5 H15.0 L16.2 213.1 H21.4 L22.4 209.3 H15.5" fill="none" stroke="#4a5c63" stroke-width="0.8" stroke-linejoin="round"/><circle cx="16.8" cy="214.9" r="0.7" fill="#4a5c63"/><circle cx="20.8" cy="214.9" r="0.7" fill="#4a5c63"/></svg>
<div class="t" style="left:31.70px;top:208.69px;font-size:7.1px;line-height:7.1px;color:#4a5b62;">Marketplace</div>
<svg class="b" style="left:8px;top:232.0px" width="22" height="16" viewBox="8 232.0 22 16"><circle cx="18.1" cy="238.1" r="1.7" fill="none" stroke="#4a5c63" stroke-width="0.8"/><path d="M14.3 243.2 C14.6 241.0 16.2 240.3 18.1 240.3 C20.0 240.3 21.6 241.0 21.9 243.2" fill="none" stroke="#4a5c63" stroke-width="0.8" stroke-linecap="round"/></svg>
<div class="t" style="left:31.70px;top:237.69px;font-size:7.1px;line-height:7.1px;color:#4a5b62;">Users &amp; Roles</div>
<svg class="b" style="left:8px;top:261.2px" width="22" height="16" viewBox="8 261.2 22 16"><path d="M18.1 264.8 L21.9 266.2 V269.0 C21.9 271.4 20.3 272.8 18.1 273.59999999999997 C15.9 272.8 14.3 271.4 14.3 269.0 V266.2 Z" fill="none" stroke="#4a5c63" stroke-width="0.8" stroke-linejoin="round"/></svg>
<div class="t" style="left:31.70px;top:266.69px;font-size:7.1px;line-height:7.1px;color:#4a5b62;">Security</div>
<svg class="b" style="left:10px;top:425px" width="14" height="14" viewBox="10 425 14 14"><circle cx="17.0" cy="431.9" r="4.85" fill="none" stroke="#d5dcdf" stroke-width="1.1"/><path d="M15.7 430.9 C15.7 429.3 18.3 429.3 18.3 430.9 C18.3 431.9 17.0 432.0 17.0 433.0" fill="none" stroke="#d5dcdf" stroke-width="0.9"/><circle cx="17.0" cy="434.4" r="0.5" fill="#d5dcdf"/></svg>
<div class="t" style="left:31.00px;top:428.96px;font-size:6.9px;line-height:6.9px;color:#d5dcdf;font-weight:bold;">Help</div>
<div class="b" style="left:553px;top:0px;width:245px;height:448px;background:#08212a;"></div>
<div class="b" style="left:553px;top:0px;width:4px;height:400px;background:linear-gradient(to right, #11272f, #0c242c 60%, #08212a);"></div>
<svg class="b" style="left:574.5px;top:15px" width="4" height="5"><path d="M2.9 0.7 L0.7 2.5 L2.9 4.3 Z" fill="#c9d2d5"/></svg>
<div class="t" style="left:579.80px;top:14.97px;font-size:5.7px;line-height:5.7px;color:#c9d2d5;">Back</div>
<div class="t" style="left:575.50px;top:26.59px;font-size:13.6px;line-height:13.6px;color:#e9eef0;font-weight:bold;">Increased Latency</div>
<div class="t" style="left:575.60px;top:52.08px;font-size:7.23px;line-height:7.23px;color:#a2afb3;">This terminal is experimenting sustained increased</div>
<div class="t" style="left:575.60px;top:60.23px;font-size:7.23px;line-height:7.23px;color:#a2afb3;">latency, averaging around 120ms, which is 3x the</div>
<div class="t" style="left:575.60px;top:68.38px;font-size:7.23px;line-height:7.23px;color:#a2afb3;">typical latency (39ms) at this location.</div>
<div class="b" style="left:575px;top:84px;width:201px;height:0.8px;background:#182b31;"></div>
<div class="t" style="left:575.60px;top:93.86px;font-size:6.55px;line-height:6.55px;color:#e9eef0;font-weight:bold;">Possible causes</div>
<div class="t" style="left:575.60px;top:103.18px;font-size:7.23px;line-height:7.23px;color:#a2afb3;">Based on the telemetry from your network performance</div>
<div class="t" style="left:575.60px;top:111.53px;font-size:7.23px;line-height:7.23px;color:#a2afb3;">and weather conditions, the increased latency is likely</div>
<div class="t" style="left:575.60px;top:119.88px;font-size:7.23px;line-height:7.23px;color:#a2afb3;">due to stormy weather in Southern California.</div>
<div class="b" style="left:575.2px;top:134.8px;width:86.5px;height:27.2px;background:#0d2329;border:1px solid #14292f;border-radius:3px;box-sizing:border-box;"></div>
<div class="b" style="left:575.6px;top:134.8px;width:4.4px;height:27.2px;background:#d81f1f;border-radius:2.4px 0.8px 0.8px 2.4px;"></div>
<div class="b" style="left:668px;top:134.8px;width:86.5px;height:27.2px;background:#0d2329;border:1px solid #14292f;border-radius:3px;box-sizing:border-box;"></div>
<div class="b" style="left:668.4px;top:134.8px;width:4.4px;height:27.2px;background:#b9a83a;border-radius:2.4px 0.8px 0.8px 2.4px;"></div>
<div class="b" style="left:575.2px;top:164.5px;width:86.5px;height:28.5px;background:#0d2329;border:1px solid #14292f;border-radius:3px;box-sizing:border-box;"></div>
<div class="b" style="left:668px;top:164.5px;width:86.5px;height:28.5px;background:#0d2329;border:1px solid #14292f;border-radius:3px;box-sizing:border-box;"></div>
<div class="t" style="left:586.70px;top:145.94px;font-size:6.8px;line-height:6.8px;color:#e9eef0;">Latency</div>
<div class="t" style="right:142.30px;top:144.18px;font-size:9.0px;line-height:9.0px;color:#e9eef0;"><b>192</b> ms</div>
<div class="t" style="left:679.50px;top:145.94px;font-size:6.8px;line-height:6.8px;color:#e9eef0;">Ping Drop</div>
<div class="t" style="right:50.00px;top:144.04px;font-size:9.4px;line-height:9.4px;color:#e9eef0;letter-spacing:0.3px;">38%</div>
<div class="t" style="right:141.00px;top:167.68px;font-size:14.2px;line-height:14.2px;color:#e9eef0;font-weight:bold;letter-spacing:0.9px;">58°</div>
<div class="t" style="right:141.00px;top:183.99px;font-size:7.1px;line-height:7.1px;color:#c9d2d5;">H: 65°&nbsp; L: 43°</div>
<div class="t" style="left:676.00px;top:170.96px;font-size:6.9px;line-height:6.9px;color:#e9eef0;">Cloud</div>
<div class="t" style="left:676.00px;top:182.16px;font-size:6.9px;line-height:6.9px;color:#e9eef0;">Wind</div>
<div class="t" style="right:52.00px;top:170.08px;font-size:9.0px;line-height:9.0px;color:#e9eef0;"><b>80</b> %</div>
<div class="t" style="right:52.00px;top:181.38px;font-size:9.0px;line-height:9.0px;color:#e9eef0;"><b>67</b> mph</div>
<svg class="b" style="left:580px;top:168px" width="28" height="24" viewBox="580 168 28 24"><defs><linearGradient id="cg" gradientUnits="userSpaceOnUse" x1="0" y1="172" x2="0" y2="186"><stop offset="0" stop-color="#f4f6f7"/><stop offset="1" stop-color="#c3cbce"/></linearGradient></defs><g fill="url(#cg)"><circle cx="594.3" cy="178.6" r="5.3"/><circle cx="589.6" cy="182.0" r="3.6"/><circle cx="599.0" cy="181.6" r="3.6"/><rect x="589.6" y="180" width="9.4" height="5.6"/></g><path d="M588.6 186.6 L587.8 188.8 M592.2 186.6 L591.4 188.8 M595.8 186.6 L595.0 188.8" stroke="#8d999e" stroke-width="0.7"/></svg>
<div class="t" style="left:575.60px;top:203.08px;font-size:7.23px;line-height:7.23px;color:#a2afb3;">Other common causes for increased latency include</div>
<div class="t" style="left:575.60px;top:211.53px;font-size:7.23px;line-height:7.23px;color:#a2afb3;">network congestion and low signal quality due to</div>
<div class="t" style="left:575.60px;top:219.98px;font-size:7.23px;line-height:7.23px;color:#a2afb3;">weather or terminal obstruction.</div>
<div class="b" style="left:575px;top:235px;width:201px;height:0.8px;background:#182b31;"></div>
<div class="t" style="left:575.60px;top:244.66px;font-size:6.55px;line-height:6.55px;color:#e9eef0;font-weight:bold;">Possible remedies</div>
<div class="t" style="left:575.60px;top:254.38px;font-size:7.23px;line-height:7.23px;color:#a2afb3;">Check the vicinity of your Starlink terminal and remove</div>
<div class="t" style="left:575.60px;top:262.93px;font-size:7.23px;line-height:7.23px;color:#a2afb3;">any debris. After the storm, check your terminal again</div>
<div class="t" style="left:575.60px;top:271.48px;font-size:7.23px;line-height:7.23px;color:#a2afb3;">and remove tree branches or other artifacts that might</div>
<div class="t" style="left:575.60px;top:280.03px;font-size:7.23px;line-height:7.23px;color:#a2afb3;">interfere with your terminal's normal operation.</div>
<div class="b" style="left:575px;top:295px;width:201px;height:0.8px;background:#182b31;"></div>
<div class="t" style="left:575.60px;top:309.70px;font-size:5.55px;line-height:5.55px;color:#e9eef0;font-weight:bold;">Commander</div>
<div class="b" style="left:575.6px;top:318px;width:166.8px;height:73.8px;background:#3a4b50;border-radius:4px;"></div>
<div class="t" style="left:582.80px;top:326.64px;font-size:7.28px;line-height:7.28px;color:#eef2f3;">Stormy conditions are expected to continue</div>
<div class="t" style="left:582.80px;top:336.64px;font-size:7.28px;line-height:7.28px;color:#eef2f3;">until 4:30 PM. Until then, expect higher latency,</div>
<div class="t" style="left:582.80px;top:346.64px;font-size:7.28px;line-height:7.28px;color:#eef2f3;">lower speed, and intermittent connectivity.</div>
<div class="t" style="left:582.80px;top:366.64px;font-size:7.28px;line-height:7.28px;color:#eef2f3;">I can help limit bandwidth use to ensure</div>
<div class="t" style="left:582.80px;top:376.64px;font-size:7.28px;line-height:7.28px;color:#eef2f3;">critical workloads work properly.</div>
<div class="b" style="left:553px;top:399.7px;width:245px;height:48.3px;background:#1d353b;"></div>
<div class="b" style="left:575px;top:413px;width:201px;height:24px;background:#0b222a;border-radius:4px;"></div>
<div class="t" style="left:584.20px;top:422.09px;font-size:7.57px;line-height:7.57px;color:#eef2f3;">Limit non-essential apps that are</div>
<div class="b" style="left:695.5px;top:420.6px;width:0.9px;height:8.8px;background:#9aa8ac;"></div>
<svg class="b" style="left:758px;top:418px" width="16" height="14" viewBox="758 418 16 14"><path d="M761.4 421.3 L770.4 425.4 L761.4 429.5 L763.3 425.4 Z M763.3 425.4 H766.6" fill="none" stroke="#e6ecee" stroke-width="0.95" stroke-linejoin="round"/></svg>
</body></html>
